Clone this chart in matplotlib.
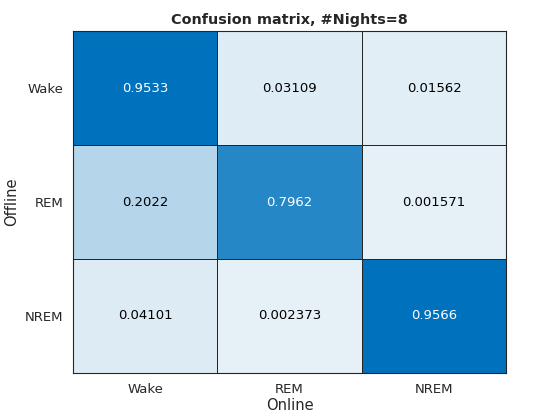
import numpy as np
import matplotlib
matplotlib.use('Agg')
from matplotlib import pyplot as plt
from matplotlib.colors import LinearSegmentedColormap

classes = ['Wake', 'REM', 'NREM']
conf = np.array([
    [0.9533, 0.03109, 0.01562],
    [0.2022, 0.7962, 0.001571],
    [0.04101, 0.002373, 0.9566],
])
cell_text = [
    ['0.9533', '0.03109', '0.01562'],
    ['0.2022', '0.7962', '0.001571'],
    ['0.04101', '0.002373', '0.9566'],
]

plt.rcParams['font.family'] = 'DejaVu Sans'
cmap = LinearSegmentedColormap.from_list('mb', [(0.9, 0.94, 0.97), (0.0, 0.447, 0.741)])

fig = plt.figure(figsize=(5.6, 4.2), dpi=100)
ax = fig.add_axes([0.13, 0.112, 0.774, 0.814])
ax.pcolormesh(conf, cmap=cmap, vmin=0, vmax=conf.max(), edgecolors='#262626', linewidth=0.6)
ax.set_xlim(0, 3)
ax.set_ylim(3, 0)
for i in range(3):
    for j in range(3):
        col = 'white' if conf[i, j] / conf.max() > 0.5 else 'black'
        ax.text(j + 0.5, i + 0.5, cell_text[i][j], ha='center', va='center', color=col, fontsize=9.5)

ax.set_xticks(np.arange(3) + 0.5)
ax.set_yticks(np.arange(3) + 0.5)
ax.set_xticklabels(classes)
ax.set_yticklabels(classes)
ax.tick_params(length=0, labelsize=9.5, colors='#262626', pad=7)
for s in ax.spines.values():
    s.set_color('#262626')
    s.set_linewidth(0.8)
ax.set_xlabel('Online', fontsize=10.5, color='#262626', labelpad=2)
ax.set_ylabel('Offline', fontsize=10.5, color='#262626', labelpad=4)
ax.set_title('Confusion matrix, #Nights=8', fontsize=10.4, fontweight='bold', color='#262626', pad=5)
fig.savefig('out.png', dpi=100)
